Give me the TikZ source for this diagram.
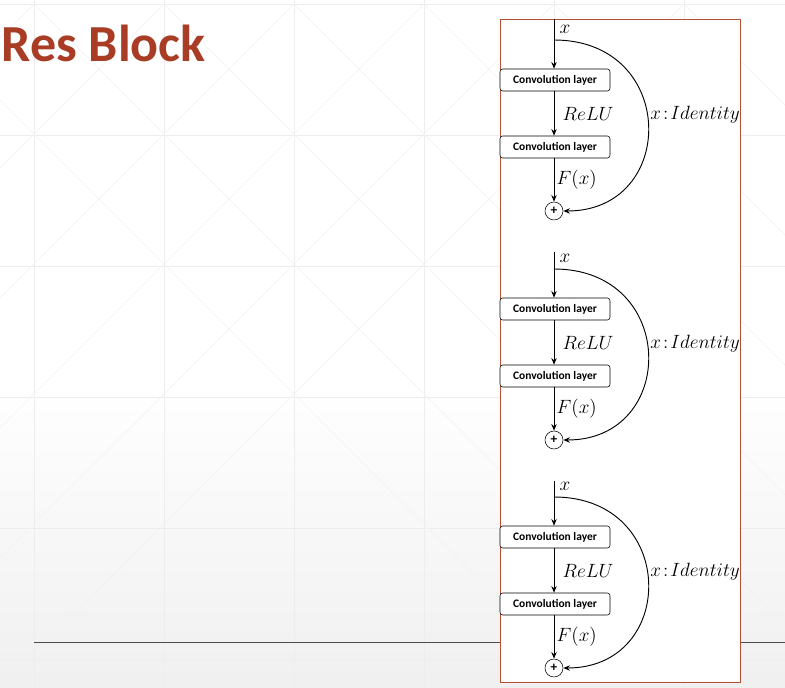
\documentclass[tikz,border=0pt]{standalone}
\usepackage{fontspec}
\setmainfont{Carlito}
\usetikzlibrary{arrows.meta}
\definecolor{titlered}{RGB}{168,60,36}
\definecolor{framered}{RGB}{180,80,50}
\newlength{\pxu}\setlength{\pxu}{0.75pt}
\tikzset{
  convbox/.style={draw,rounded corners=2pt,minimum width=110\pxu,minimum height=22\pxu,inner sep=0pt,font=\fontsize{8.6}{9}\selectfont\bfseries,fill=white},
  sumnode/.style={draw,circle,minimum size=18\pxu,inner sep=0pt,font=\fontsize{10}{10}\selectfont\bfseries,fill=white},
  arr/.style={-{Stealth[length=5pt,width=4pt]},line width=0.7pt},
  lbl/.style={font=\fontsize{13.5}{13.5}\selectfont},
}
\begin{document}
\begin{tikzpicture}[x=0.75pt,y=-0.75pt]
\useasboundingbox (0,0) rectangle (785,688);
\fill[white] (0,0) rectangle (785,688);
\shade[top color=white,bottom color=black!6] (0,380) rectangle (785,688);
\foreach \gx in {34,164,294,424,554,684} \draw[black!7] (\gx,0) -- (\gx,688);
\foreach \gy in {4,135,266,397,528,659} \draw[black!7] (0,\gy) -- (785,\gy);
\foreach \gx in {-96,34,164,294,424,554,684} {
  \draw[black!5] (\gx,4) -- ++(650,650);
  \draw[black!5] (\gx,4) -- ++(-650,650);}
\draw[black!70] (34,642) -- (785,642);
\node[anchor=west,text=titlered,font=\fontsize{39}{39}\selectfont\bfseries] (title) at (-3,43) {Res Block};
\draw[framered,fill=white] (500,19) rectangle (740,682);
\foreach \o/\i/\t in {0/a/19,229/b/252,457/c/481} {
  \coordinate (top\i) at (554,\t);
  \coordinate (sp\i) at (554,40+\o);
  \node[convbox] (c1\i) at (555,80+\o) {Convolution layer};
  \node[convbox] (c2\i) at (555,147+\o) {Convolution layer};
  \node[sumnode] (s\i) at (554,211+\o) {+};
  \draw[arr] (top\i) -- (c1\i.north -| top\i);
  \draw[arr] (c1\i.south -| top\i) -- (c2\i.north -| top\i);
  \draw[arr] (c2\i.south -| top\i) -- (s\i.north);
  \draw[arr] (sp\i) .. controls (678,40+\o) and (678,211+\o) .. (s\i.east);
  \node[lbl,anchor=west] (lx\i) at (555,29+\o) {$x$};
  \node[lbl,anchor=west] (lr\i) at (558,114+\o) {$ReLU$};
  \node[lbl,anchor=west] (lf\i) at (552,180+\o) {$F(x)$};
  \node[lbl,anchor=west,inner sep=0pt] (li\i) at (650,115+\o) {$x\!:\!Identity$};
}
\end{tikzpicture}
\end{document}
